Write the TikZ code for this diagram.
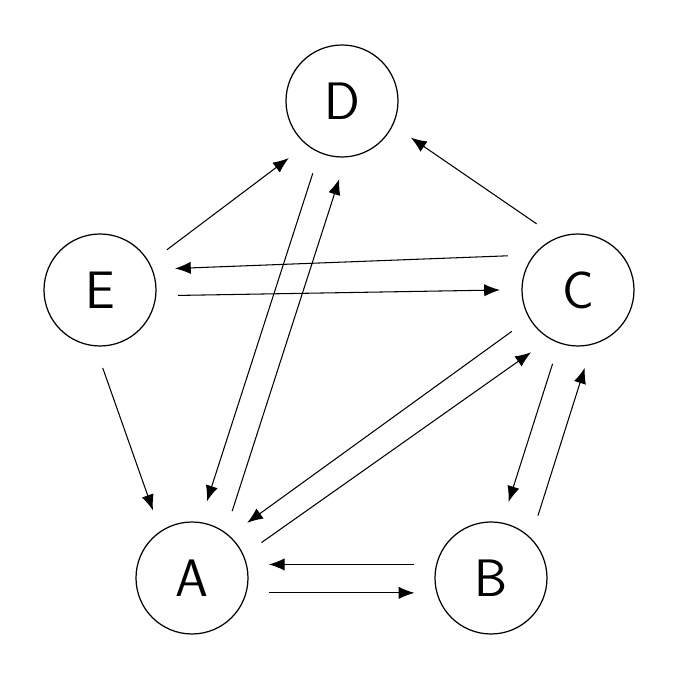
\documentclass[tikz,border=0pt]{standalone}
\usepackage{tikz}
\usetikzlibrary{arrows.meta}

\begin{document}
\begin{tikzpicture}[vertex/.style={draw, circle, minimum size=2.24cm, outer sep=0.44cm, line width=0.7pt, font=\sffamily\fontsize{30}{30}\selectfont},
    link/.style={-{Latex[length=9pt,width=7pt]}, line width=0.6pt}]
    \useasboundingbox (0,0) rectangle (13.76,-13.58);
    \node (D) [vertex] at (6.84,-2.02) {D};
    \node (E) [vertex] at (2.0,-5.8) {E};
    \node (C) [vertex] at (11.56,-5.8) {C};
    \node (A) [vertex] at (3.84,-11.56) {A};
    \node (B) [vertex] at (9.82,-11.56) {B};

    \draw[link] (E.31) -- (D.227);
    \draw[link] (C.122) -- (D.332);
    \draw[link] (D.248) -- (A.79);
    \draw[link] (A.59) -- (D.268);
    \draw[link] (C.154) -- (E.16);
    \draw[link] (E.356) -- (C.180);
    \draw[link] (E.272) -- (A.120);
    \draw[link] (C.212) -- (A.45);
    \draw[link] (A.27) -- (C.233);
    \draw[link] (C.251) -- (B.77);
    \draw[link] (B.53) -- (C.275);
    \draw[link] (B.170) -- (A.10);
    \draw[link] (A.349) -- (B.191);
\end{tikzpicture}
\end{document}
